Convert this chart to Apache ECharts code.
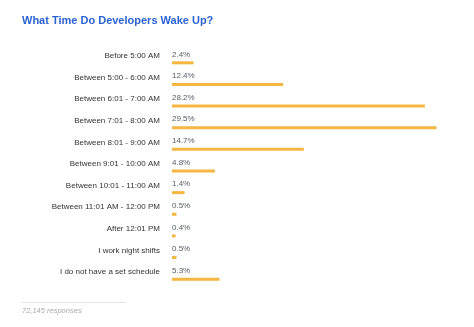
<!DOCTYPE html>
<html><head><meta charset="utf-8">
<script src="https://cdn.jsdelivr.net/npm/echarts@6/dist/echarts.min.js"></script>
<style>html,body{margin:0;padding:0;background:#fff}#c{width:474px;height:327px}</style>
</head><body><div id="c"></div>
<script>
const categories = ["Before 5:00 AM","Between 5:00 - 6:00 AM","Between 6:01 - 7:00 AM","Between 7:01 - 8:00 AM","Between 8:01 - 9:00 AM","Between 9:01 - 10:00 AM","Between 10:01 - 11:00 AM","Between 11:01 AM - 12:00 PM","After 12:01 PM","I work night shifts","I do not have a set schedule"];
const values = [2.4,12.4,28.2,29.5,14.7,4.8,1.4,0.5,0.4,0.5,5.3];
const titleText = "What Time Do Developers Wake Up?";
const footerText = "72,145 responses";

const chart = echarts.init(document.getElementById('c'));
chart.setOption({
  animation:false,
  title:{text:titleText,left:17,top:10,textStyle:{fontFamily:'Liberation Sans, Arial',fontSize:11,fontWeight:'bold',color:'#2b63d2'}},
  grid:{left:172,right:33,top:52,bottom:37,containLabel:false},
  xAxis:{type:'value',min:0,max:30,show:false},
  yAxis:{type:'category',data:categories,inverse:true,axisLine:{show:false},axisTick:{show:false},
    axisLabel:{margin:12,fontFamily:'Liberation Sans, Arial',fontSize:8,color:'#333',verticalAlign:'bottom',padding:[0,0,3,0]}},
  series:[{type:'bar',data:values,barWidth:3,itemStyle:{color:'#f5b642'},
    label:{show:true,position:[0,-11],formatter:p=>p.value+'%',fontFamily:'Liberation Sans, Arial',fontSize:8,color:'#555a66'}}],
  graphic:[
    {type:'line',shape:{x1:22,y1:302.5,x2:126,y2:302.5},style:{stroke:'#e4e4e4',lineWidth:1}},
    {type:'text',left:22,top:307,style:{text:footerText,fontFamily:'Liberation Sans, Arial',fontSize:7.5,fontStyle:'italic',fill:'#aaa'}}
  ]
});
</script></body></html>
